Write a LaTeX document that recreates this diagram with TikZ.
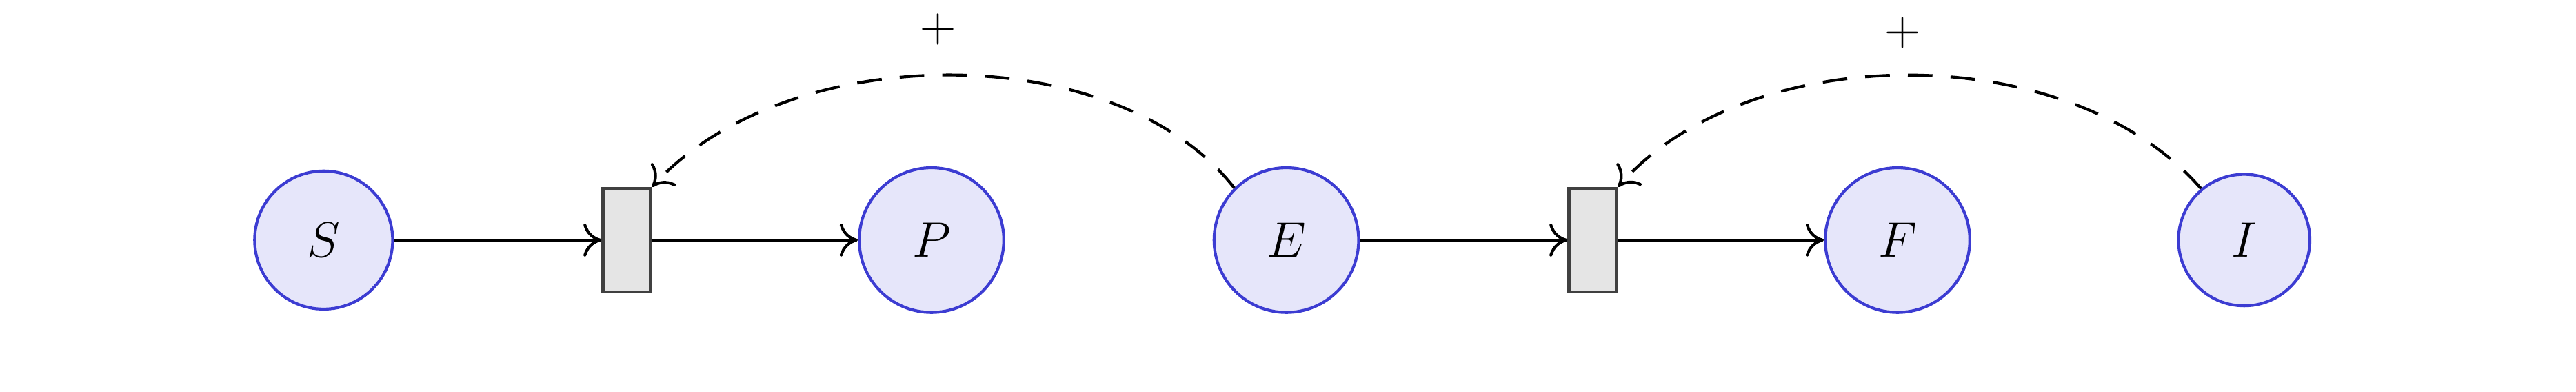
\documentclass[tikz,border=0pt]{standalone}
\usetikzlibrary{arrows.meta}
\definecolor{nodefill}{RGB}{230,230,250}
\definecolor{nodeline}{RGB}{60,60,210}
\begin{document}
\begin{tikzpicture}[
  place/.style={circle,draw=nodeline,fill=nodefill,line width=1pt,inner sep=0pt,font=\LARGE},
  trans/.style={rectangle,draw=black!75,fill=black!10,line width=1pt,minimum width=0.58cm,minimum height=1.26cm,inner sep=0pt},
  arc/.style={line width=1pt,-{To[length=2.2mm,width=4mm]}},
  infl/.style={line width=1pt,dash pattern=on 0.3cm off 0.22cm,-{To[length=2.2mm,width=4mm]}},
  sign/.style={font=\LARGE}
]
\useasboundingbox (0,0) rectangle (31.36,4.76);
\node[place,minimum size=1.68cm] (S) at (3.94,1.84) {$S$};
\node[trans] (t1) at (7.63,1.84) {};
\node[place,minimum size=1.76cm] (P) at (11.34,1.84) {$P$};
\node[place,minimum size=1.76cm] (E) at (15.66,1.84) {$E$};
\node[trans] (t2) at (19.39,1.84) {};
\node[place,minimum size=1.76cm] (F) at (23.1,1.84) {$F$};
\node[place,minimum size=1.6cm] (I) at (27.32,1.84) {$I$};
\draw[arc] (S) -- (t1);
\draw[arc] (t1) -- (P);
\draw[arc] (E) -- (t2);
\draw[arc] (t2) -- (F);
\draw[infl] (E.135) .. controls (13.6,4.3) and (9.6,4.3) .. (t1.north east);
\draw[infl] (I.130) .. controls (25.2,4.3) and (21.3,4.3) .. (t2.north east);
\node[sign] (p1) at (11.42,4.4) {$+$};
\node[sign] (p2) at (23.16,4.36) {$+$};
\end{tikzpicture}
\end{document}
